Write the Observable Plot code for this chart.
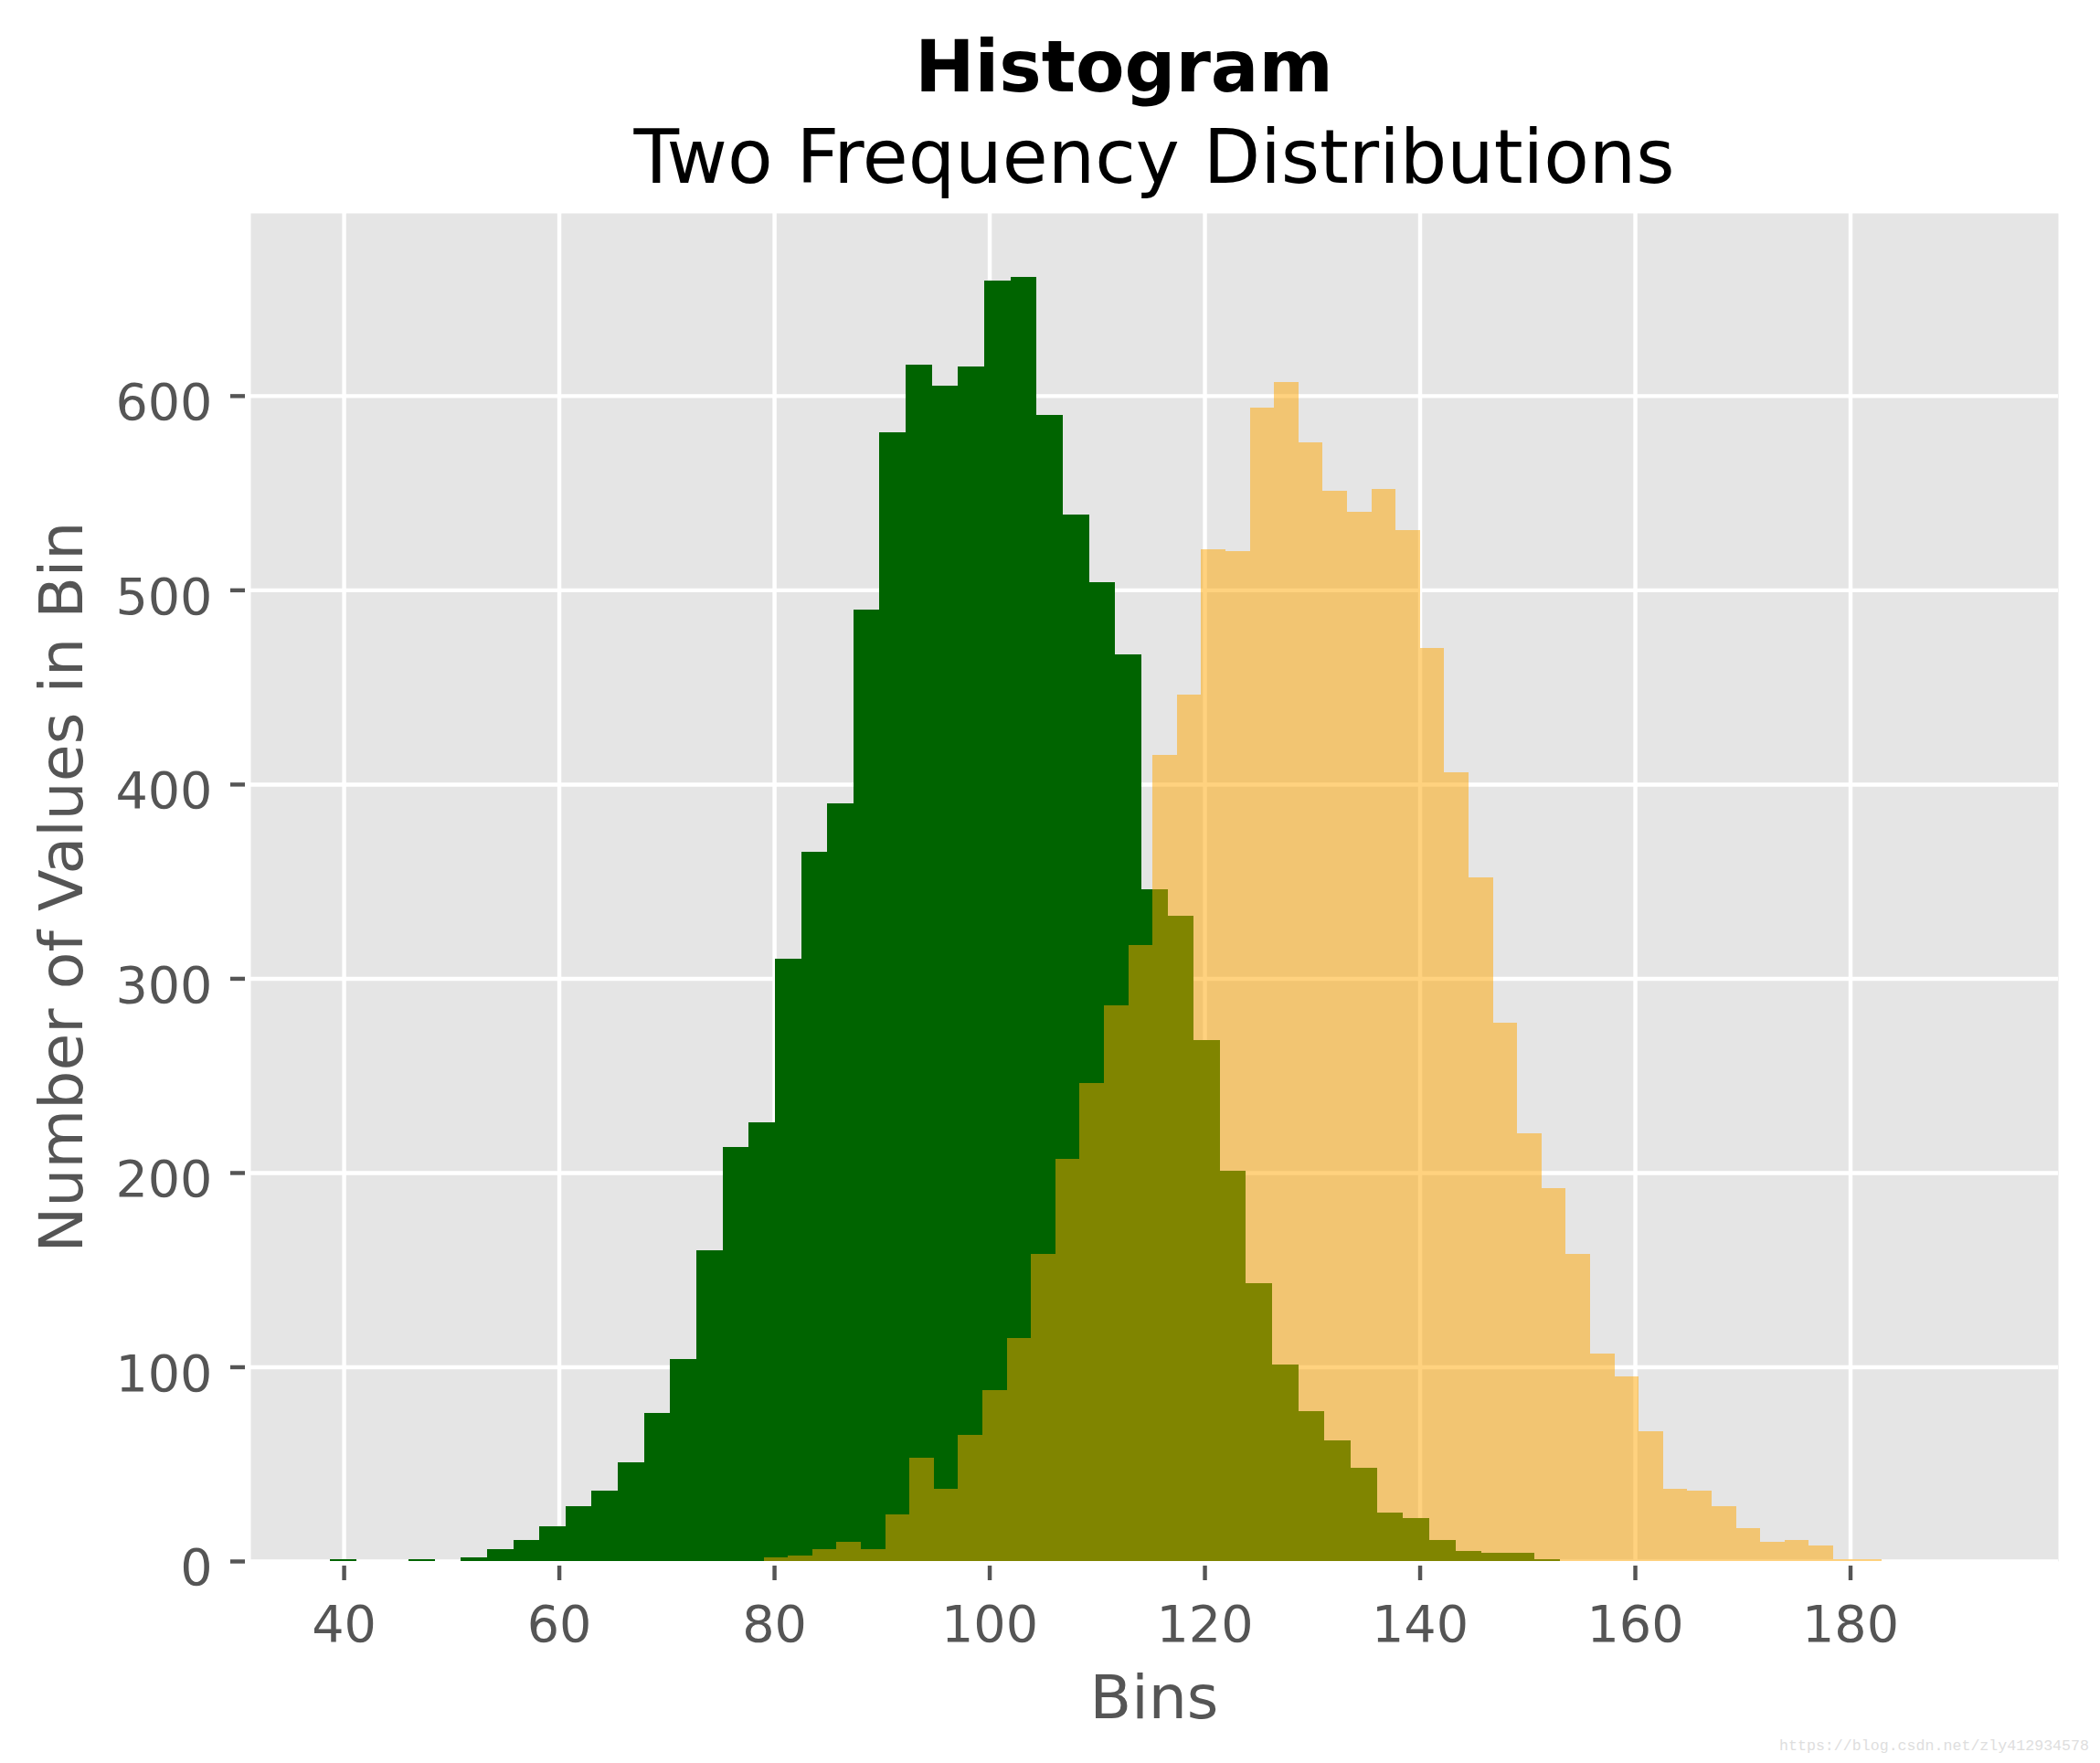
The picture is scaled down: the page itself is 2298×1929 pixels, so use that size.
<!DOCTYPE html>
<html>
<head>
<meta charset="utf-8">
<script src="https://cdn.jsdelivr.net/npm/d3@7"></script>
<script src="https://cdn.jsdelivr.net/npm/@observablehq/plot@0.6"></script>
<style>
  html, body { margin: 0; padding: 0; background: #ffffff; }
  #chart { width: 2298px; height: 1929px; }
</style>
</head>
<body>
<div id="chart"></div>
<script>
// ---- Data ----
// Counts per bin (50 bins each), left to right
const greenCounts = [1, 0, 0, 1, 0, 2, 6, 11, 18, 28,
                     36, 51, 76, 104, 160, 213, 226, 310, 365, 390,
                     490, 581, 616, 605, 615, 659, 661, 590, 539, 504,
                     467, 346, 332, 268, 201, 143, 101, 77, 62, 48,
                     25, 22, 11, 5, 4, 4, 1, 0, 0, 0];
const orangeCounts = [2, 3, 6, 10, 6, 24, 53, 37, 65, 88,
                      115, 158, 207, 246, 286, 317, 415, 446, 521, 520,
                      594, 607, 576, 551, 540, 552, 531, 470, 406, 352,
                      277, 220, 192, 158, 107, 95, 67, 37, 36, 28,
                      17, 10, 11, 8, 1, 1, 0, 0, 0, 0];
// Bin edges: first edge and bin width of each histogram
const greenBinStart = 38.72, greenBinWidth = 2.4325;
const orangeBinStart = 79.02, orangeBinWidth = 2.2592;
// Axes
const xTicks = [40, 60, 80, 100, 120, 140, 160, 180];
const yTicks = [0, 100, 200, 300, 400, 500, 600];
const xDomain = [31.33, 199.32];
const yDomain = [0, 694.05];
// Texts
const titleText = "Histogram";
const subtitleText = "Two Frequency Distributions";
const xLabel = "Bins";
const yLabel = "Number of Values in Bin";
const watermarkText = "https://blog.csdn.net/zly412934578";

const toBins = (counts, start, width) =>
  counts.map((c, i) => ({x1: start + i * width, x2: start + (i + 1) * width, count: c}));
const greenBins = toBins(greenCounts, greenBinStart, greenBinWidth);
const orangeBins = toBins(orangeCounts, orangeBinStart, orangeBinWidth);

const W = 2298, H = 1929;
const ML = 274, MR = 46, MT = 233, MB = 221;
const font = "DejaVu Sans, Verdana, sans-serif";
const grey = "#555555";

const svg = Plot.plot({
  width: W,
  height: H,
  marginLeft: ML, marginRight: MR, marginTop: MT, marginBottom: MB,
  style: {fontFamily: font, fontSize: "55.6px", color: grey, background: "#ffffff", overflow: "visible"},
  x: {domain: xDomain},
  y: {domain: yDomain},
  marks: [
    Plot.frame({fill: "#E5E5E5", stroke: "none"}),
    Plot.gridX(xTicks, {stroke: "#ffffff", strokeOpacity: 1, strokeWidth: 4.44}),
    Plot.gridY(yTicks, {stroke: "#ffffff", strokeOpacity: 1, strokeWidth: 4.44}),
    Plot.rect(greenBins, {x1: "x1", x2: "x2", y1: 0, y2: "count", fill: "#006400", shapeRendering: "crispEdges"}),
    Plot.rect(orangeBins, {x1: "x1", x2: "x2", y1: 0, y2: "count", fill: "#FFA500", fillOpacity: 0.5, shapeRendering: "crispEdges"}),
    // tick marks
    Plot.axisX(xTicks, {tickSize: 16, stroke: grey, strokeWidth: 4.44, fill: "none", label: null, dy: 5}),
    Plot.axisY(yTicks, {tickSize: 16, stroke: grey, strokeWidth: 4.44, fill: "none", label: null, dx: -6}),
    // tick labels
    Plot.axisX(xTicks, {tickSize: 0, tickPadding: 48.5, stroke: "none", fill: grey, fontSize: 55.6, label: null}),
    Plot.axisY(yTicks, {tickSize: 0, tickPadding: 42, stroke: "none", fill: grey, fontSize: 55.6, label: null, dy: 8})
  ]
});

document.getElementById("chart").appendChild(svg);

const s = d3.select(svg);
const addText = (txt, x, y, opts) => {
  const t = s.append("text")
    .attr("x", x).attr("y", y)
    .attr("text-anchor", opts.anchor || "middle")
    .attr("font-family", opts.family || font)
    .attr("font-size", opts.size)
    .attr("font-weight", opts.weight || "normal")
    .attr("fill", opts.fill || "#000000")
    .text(txt);
  if (opts.rotate) t.attr("transform", `rotate(${opts.rotate},${x},${y})`);
  if (opts.textLength) t.attr("textLength", opts.textLength).attr("lengthAdjust", "spacingAndGlyphs");
  return t;
};
const plotCenterX = ML + (W - ML - MR) / 2;
const plotCenterY = MT + (H - MT - MB) / 2;
addText(titleText, 1230, 100, {size: 78, weight: "bold"});
addText(subtitleText, plotCenterX, 200, {size: 81.2});
addText(xLabel, plotCenterX, 1880, {size: 66.5, fill: grey});
addText(yLabel, 90, plotCenterY, {size: 66.5, fill: grey, rotate: -90});
addText(watermarkText, 2286, 1915, {size: 17, fill: "#dedede", anchor: "end", family: "Liberation Mono, DejaVu Sans Mono, monospace", textLength: 339});
</script>
</body>
</html>
